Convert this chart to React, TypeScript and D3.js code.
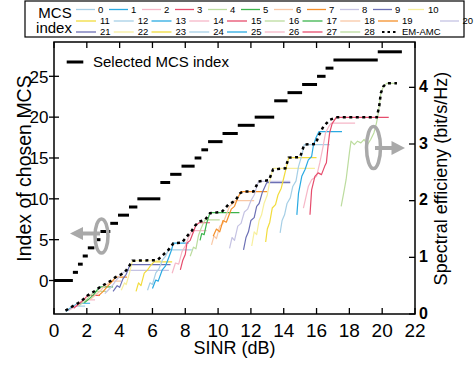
import React from 'react';
import * as d3 from 'd3';

const W = 474;
const H = 368;

// Axis ticks
const sinrTicks = [0, 2, 4, 6, 8, 10, 12, 14, 16, 18, 20, 22];
const mcsTicks = [0, 5, 10, 15, 20, 25];
const seTicks = [0, 1, 2, 3, 4];

// Selected MCS index (black step segments)
const selIndex = [0, 1, 2, 3, 4, 5, 6, 7, 8, 9, 10, 12, 13, 14, 15, 16, 17, 18, 19, 20, 22, 23, 24, 25, 26, 27, 28];
const selStart = [0, 1.15, 1.46, 1.75, 2.06, 2.46, 2.83, 3.43, 3.9, 4.57, 5.08, 6.48, 7.08, 7.77, 8.57, 8.98, 9.39, 10.27, 11.2, 12.23, 13.42, 14.23, 15.12, 16.03, 16.55, 17.03, 19.73];
const selEnd = [1.15, 1.46, 1.75, 2.06, 2.46, 2.83, 3.43, 3.9, 4.57, 5.08, 6.48, 7.08, 7.77, 8.57, 8.98, 9.39, 10.27, 11.2, 12.23, 13.42, 14.23, 15.12, 16.03, 16.55, 17.03, 19.73, 21.2];

// Spectral efficiency curves per MCS: [SINR dB, bit/s/Hz]
const mcs0 = [[0.7, 0.05], [0.85, 0.08], [1.0, 0.11], [1.15, 0.14], [1.9, 0.14]];
const mcs1 = [[0.75, 0.05], [0.95, 0.09], [1.2, 0.14], [1.46, 0.19], [2.2, 0.19]];
const mcs2 = [[0.9, 0.06], [1.15, 0.11], [1.45, 0.18], [1.6, 0.21], [1.75, 0.25], [2.5, 0.25]];
const mcs3 = [[1.2, 0.1], [1.45, 0.16], [1.7, 0.22], [1.9, 0.28], [2.06, 0.33], [2.8, 0.33]];
const mcs4 = [[1.5, 0.14], [1.8, 0.21], [2.1, 0.29], [2.3, 0.35], [2.46, 0.4], [3.2, 0.4]];
const mcs5 = [[1.85, 0.2], [2.2, 0.28], [2.45, 0.35], [2.65, 0.43], [2.83, 0.48], [3.6, 0.48]];
const mcs6 = [[2.2, 0.25], [2.5, 0.33], [2.8, 0.4], [3.1, 0.5], [3.3, 0.54], [3.43, 0.58], [4.1, 0.58]];
const mcs7 = [[2.7, 0.32], [3.0, 0.4], [3.3, 0.5], [3.5, 0.56], [3.75, 0.65], [4.45, 0.65]];
const mcs8 = [[3.1, 0.36], [3.4, 0.45], [3.6, 0.52], [3.8, 0.6], [4.1, 0.7], [4.4, 0.77], [7.0, 0.77]];
const mcs9 = [[3.6, 0.4], [3.85, 0.5], [4.0, 0.47], [4.2, 0.62], [4.4, 0.7], [4.63, 0.87], [7.1, 0.87]];
const mcs10 = [[4.1, 0.42], [4.3, 0.55], [4.4, 0.52], [4.6, 0.72], [4.78, 0.94], [6.5, 0.94]];
const mcs11 = [[5.0, 0.4], [5.15, 0.55], [5.3, 0.5], [5.5, 0.72], [5.7, 0.78], [5.9, 0.86], [6.1, 0.92], [7.2, 0.92]];
const mcs12 = [[5.7, 0.42], [5.85, 0.55], [6.0, 0.52], [6.2, 0.72], [6.4, 0.8], [6.6, 0.95], [6.8, 1.02], [6.97, 1.13], [8.4, 1.13]];
const mcs13 = [[6.0, 0.45], [6.2, 0.6], [6.35, 0.58], [6.6, 0.78], [6.8, 0.85], [7.0, 1.0], [7.15, 1.12], [7.28, 1.25], [8.2, 1.25]];
const mcs14 = [[7.2, 0.72], [7.4, 0.9], [7.6, 0.88], [7.8, 1.1], [8.0, 1.2], [8.2, 1.35], [8.4, 1.47], [9.3, 1.47]];
const mcs15 = [[7.7, 0.78], [7.85, 0.95], [8.0, 1.05], [8.1, 1.25], [8.3, 1.3], [8.5, 1.45], [8.65, 1.57], [8.85, 1.61], [9.5, 1.61]];
const mcs16 = [[8.3, 1.02], [8.5, 1.18], [8.65, 1.15], [8.8, 1.38], [8.95, 1.5], [9.1, 1.6], [9.2, 1.66], [10.1, 1.66]];
const mcs17 = [[8.9, 1.3], [9.0, 1.42], [9.15, 1.4], [9.3, 1.6], [9.51, 1.79], [11.3, 1.79]];
const mcs18 = [[9.6, 1.22], [9.75, 1.38], [9.9, 1.33], [10.1, 1.55], [10.3, 1.6], [10.5, 1.75], [10.7, 1.9], [10.9, 1.95], [11.04, 2.0], [12.2, 2.0]];
const mcs19 = [[9.7, 1.37], [9.9, 1.5], [10.1, 1.45], [10.3, 1.65], [10.5, 1.62], [10.8, 1.85], [11.0, 1.9], [11.2, 2.05], [11.4, 2.16], [13.0, 2.16]];
const mcs20 = [[10.7, 1.16], [10.85, 1.35], [11.0, 1.3], [11.2, 1.55], [11.4, 1.6], [11.6, 1.8], [11.8, 1.85], [12.0, 2.0], [12.2, 2.1], [12.46, 2.34], [14.4, 2.34]];
const mcs21 = [[11.55, 1.13], [11.7, 1.35], [11.85, 1.45], [12.0, 1.65], [12.2, 1.7], [12.35, 1.9], [12.5, 1.95], [12.7, 2.15], [12.97, 2.32], [14.4, 2.32]];
const mcs22 = [[12.05, 1.2], [12.2, 1.45], [12.35, 1.4], [12.5, 1.65], [12.65, 1.75], [12.8, 1.95], [13.0, 2.1], [13.15, 2.35], [13.35, 2.57], [15.9, 2.57]];
const mcs23 = [[12.9, 1.27], [13.0, 1.5], [13.15, 1.62], [13.3, 1.87], [13.5, 1.93], [13.65, 2.1], [13.85, 2.22], [14.0, 2.4], [14.15, 2.58], [14.3, 2.76], [16.0, 2.76]];
const mcs24 = [[13.78, 1.43], [13.9, 1.65], [14.05, 1.75], [14.2, 1.95], [14.4, 2.05], [14.55, 2.25], [14.75, 2.35], [14.9, 2.6], [15.1, 2.8], [15.25, 2.99], [16.8, 2.99]];
const mcs25 = [[14.8, 1.75], [14.9, 2.13], [15.1, 2.43], [15.3, 2.55], [15.5, 2.72], [15.7, 2.78], [15.8, 2.96], [15.95, 3.1], [16.15, 3.22], [17.55, 3.22]];
const mcs26 = [[15.2, 1.87], [15.5, 2.25], [15.7, 2.37], [16.0, 2.43], [16.2, 2.67], [16.4, 2.96], [16.55, 3.2], [16.75, 3.31], [16.9, 3.37], [18.35, 3.37]];
const mcs27 = [[15.6, 1.75], [15.7, 2.19], [15.9, 2.43], [16.1, 2.49], [16.3, 2.46], [16.5, 2.61], [16.6, 2.67], [16.7, 2.96], [16.8, 3.2], [16.95, 3.36], [17.2, 3.47], [20.4, 3.47]];
const mcs28 = [[17.5, 1.9], [17.65, 2.13], [17.8, 2.37], [18.0, 2.84], [18.1, 3.05], [18.3, 2.99], [18.5, 3.05], [18.7, 3.02], [18.9, 3.08], [19.1, 2.99], [19.3, 3.08], [19.5, 3.2], [19.65, 3.37], [19.72, 3.47], [19.82, 3.67], [19.92, 3.9], [20.08, 4.02], [20.28, 4.07], [20.9, 4.07]];

const mcsCurves = [mcs0, mcs1, mcs2, mcs3, mcs4, mcs5, mcs6, mcs7, mcs8, mcs9, mcs10, mcs11, mcs12, mcs13, mcs14, mcs15, mcs16, mcs17, mcs18, mcs19, mcs20, mcs21, mcs22, mcs23, mcs24, mcs25, mcs26, mcs27, mcs28];

// EM-AMC envelope
const emAmc = [[0.7, 0.06], [1.15, 0.14], [1.46, 0.19], [1.75, 0.25], [2.06, 0.33], [2.46, 0.4], [2.83, 0.48], [3.43, 0.58], [3.75, 0.65], [4.1, 0.7], [4.4, 0.77], [4.63, 0.87], [4.78, 0.94], [6.3, 0.95], [6.56, 1.02], [6.97, 1.13], [7.28, 1.25], [7.8, 1.26], [8.1, 1.37], [8.4, 1.47], [8.6, 1.56], [8.85, 1.63], [9.2, 1.66], [9.51, 1.78], [10.22, 1.8], [10.63, 1.93], [11.04, 2.0], [11.34, 2.13], [11.5, 2.16], [12.16, 2.16], [12.46, 2.34], [13.1, 2.36], [13.35, 2.55], [14.1, 2.57], [14.3, 2.76], [15.0, 2.77], [15.25, 2.99], [15.95, 3.0], [16.12, 3.14], [16.42, 3.31], [16.83, 3.43], [17.2, 3.47], [19.67, 3.47], [19.82, 3.67], [19.92, 3.9], [20.08, 4.02], [20.28, 4.07], [20.9, 4.07]];

const palette = ['#a6cfe6', '#2aaae2', '#f6b7c7', '#e64c6c', '#bcdc9e', '#3cb44c', '#f9c8a6', '#f5902a', '#c5c3e3', '#6c70b5', '#f7ef9c', '#f2dc3c'];

const FONT = 'Liberation Sans, Arial, Helvetica, sans-serif';

export default function App() {
  const x = d3.scaleLinear().domain([0, 22]).range([54, 415]);
  const yL = d3.scaleLinear().domain([-4.1, 29.2]).range([314, 42]);
  const yR = d3.scaleLinear().domain([0, 4.8]).range([314, 42]);
  const line = d3.line<number[]>().x((d) => x(d[0])).y((d) => yR(d[1]));

  const row1 = d3.range(0, 10);
  const row2 = d3.range(11, 20);
  const row3 = d3.range(21, 29);

  const legendRow = (ids: number[], y: number, x0: number, dx: number, l1: number, l2: number) =>
    ids.map((id, i) => {
      const lx = x0 + dx * i;
      return (
        <g key={'lg' + id}>
          <line x1={lx - l1} x2={lx - l2} y1={y} y2={y} stroke={palette[id % 12]} strokeWidth={1.3} />
          <text x={lx} y={y + 3.3} fontSize={9.5} fontFamily={FONT}>{id}</text>
        </g>
      );
    });

  return (
    <svg width={W} height={H} style={{ position: 'absolute', left: 0, top: 0, background: '#fff' }}>
      <rect x={0} y={0} width={W} height={H} fill="#fff" />
      {/* Legend box */}
      <rect x={25} y={1} width={439} height={36} fill="none" stroke="#000" strokeWidth={1.2} />
      <text x={55} y={18} fontSize={15} fontFamily={FONT} textAnchor="middle">MCS</text>
      <text x={54} y={33} fontSize={15} fontFamily={FONT} textAnchor="middle">index</text>
      {legendRow(row1, 9.5, 98, 33, 22, 3)}
      <line x1={408} x2={424} y1={9.5} y2={9.5} stroke={palette[10]} strokeWidth={1.3} />
      <text x={428} y={12.8} fontSize={9.5} fontFamily={FONT}>10</text>
      {legendRow(row2, 21, 100, 37.75, 24, 4)}
      <line x1={440} x2={459} y1={21} y2={21} stroke={palette[20 % 12]} strokeWidth={1.3} />
      <text x={462.5} y={24.3} fontSize={9.5} fontFamily={FONT}>20</text>
      {legendRow(row3, 32, 100, 37.75, 24, 4)}
      <line x1={382} x2={398} y1={32} y2={32} stroke="#000" strokeWidth={2} strokeDasharray="2.5,3" />
      <text x={402} y={35.3} fontSize={9.5} fontFamily={FONT}>EM-AMC</text>

      {/* Curves */}
      {mcsCurves.map((c, i) => (
        <path key={'c' + i} d={line(c) || ''} fill="none" stroke={palette[i % 12]} strokeWidth={1.2} strokeLinejoin="round" />
      ))}

      {/* Selected MCS segments */}
      {selIndex.map((m, i) => (
        <line key={'s' + i} x1={x(selStart[i])} x2={x(selEnd[i])} y1={yL(m)} y2={yL(m)} stroke="#000" strokeWidth={3} />
      ))}

      {/* EM-AMC */}
      <path d={line(emAmc) || ''} fill="none" stroke="#000" strokeWidth={2.5} strokeDasharray="3,3.5" />

      {/* Frame */}
      <rect x={54} y={42} width={361} height={272} fill="none" stroke="#000" strokeWidth={1.5} />

      {/* X ticks */}
      {sinrTicks.map((t) => (
        <g key={'xt' + t}>
          <line x1={x(t)} x2={x(t)} y1={314} y2={308} stroke="#000" strokeWidth={1.3} />
          <line x1={x(t)} x2={x(t)} y1={42} y2={48} stroke="#000" strokeWidth={1.3} />
          <text x={x(t)} y={336.5} fontSize={19} fontFamily={FONT} textAnchor="middle">{t}</text>
        </g>
      ))}
      {/* Left ticks */}
      {mcsTicks.map((t) => (
        <g key={'yl' + t}>
          <line x1={49} x2={59} y1={yL(t)} y2={yL(t)} stroke="#000" strokeWidth={1.3} />
          <text x={48.5} y={yL(t) + 6.2} fontSize={17} fontFamily={FONT} textAnchor="end">{t}</text>
        </g>
      ))}
      {/* Right ticks */}
      {seTicks.map((t) => (
        <g key={'yr' + t}>
          <line x1={409} x2={415} y1={yR(t)} y2={yR(t)} stroke="#000" strokeWidth={1.3} />
          <text x={419} y={yR(t) + 4.5} fontSize={16} fontWeight="bold" fontFamily={FONT}>{t}</text>
        </g>
      ))}

      {/* Axis titles */}
      <text x={234.5} y={354} fontSize={18} fontFamily={FONT} textAnchor="middle">SINR (dB)</text>
      <text transform="translate(30.5,168.5) rotate(-90)" fontSize={19.5} fontFamily={FONT} textAnchor="middle">Index of chosen MCS</text>
      <text transform="translate(447,178.5) rotate(-90)" fontSize={18} fontFamily={FONT} textAnchor="middle">Spectral efficieny (bit/s/Hz)</text>

      {/* In-plot legend */}
      <line x1={66.7} x2={83.3} y1={62} y2={62} stroke="#000" strokeWidth={3} />
      <text x={93} y={67} fontSize={15} fontFamily={FONT}>Selected MCS index</text>

      {/* Left arrow */}
      <g stroke="#a9a9a9" fill="none">
        <ellipse cx={101.5} cy={236} rx={6.5} ry={17} strokeWidth={3.5} />
        <line x1={100} x2={82} y1={233.5} y2={233.5} strokeWidth={4} />
      </g>
      <polygon points="70,233.5 83,227 83,240" fill="#a9a9a9" />
      {/* Right arrow */}
      <g stroke="#a9a9a9" fill="none">
        <ellipse cx={373.5} cy={147.5} rx={7} ry={21} strokeWidth={3.5} />
        <line x1={375} x2={392} y1={148} y2={148} strokeWidth={4} />
      </g>
      <polygon points="405,148 391.5,141 391.5,155" fill="#a9a9a9" />
    </svg>
  );
}
